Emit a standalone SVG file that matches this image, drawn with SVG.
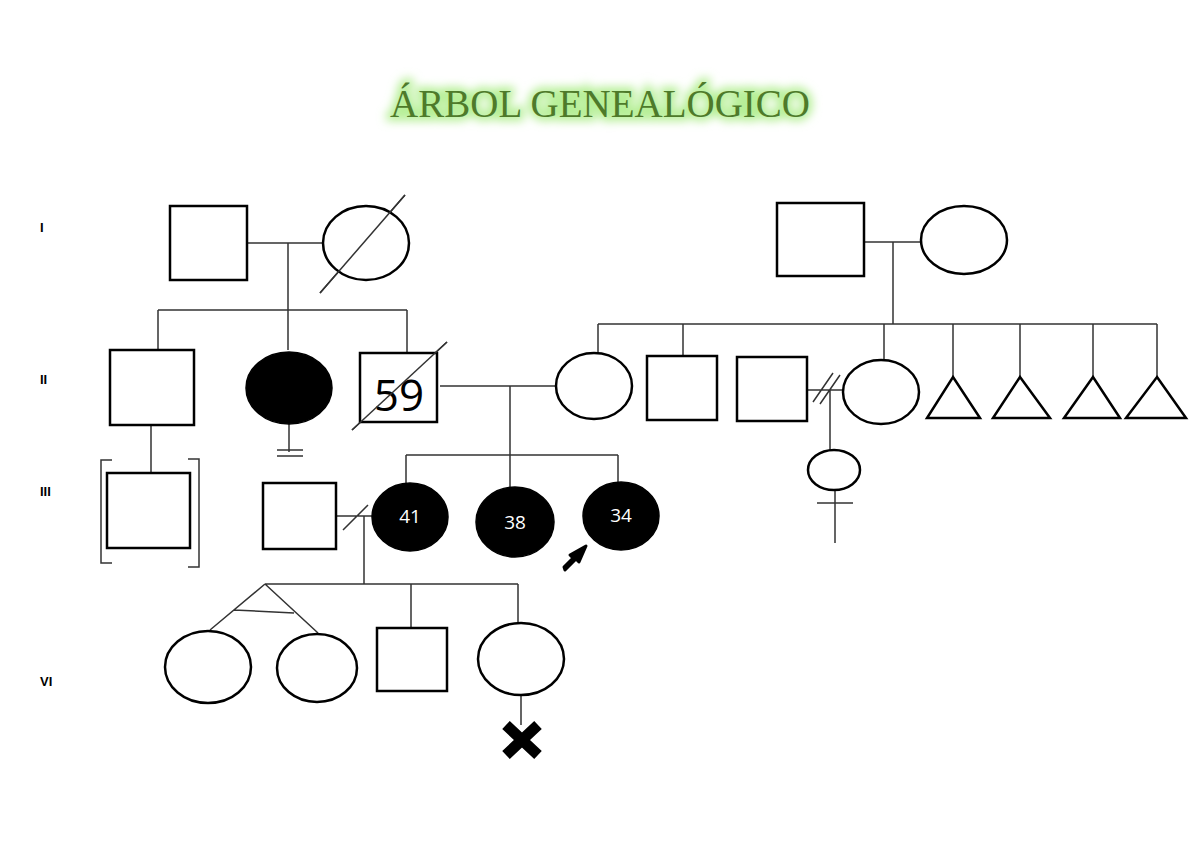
<svg xmlns="http://www.w3.org/2000/svg" width="1200" height="849" viewBox="0 0 1200 849">
<style>
.n{fill:#fff;stroke:#000;stroke-width:2.5}
.f{fill:#000;stroke:#000;stroke-width:1.5}
.l{stroke:#333;stroke-width:1.5;fill:none}
.g{font-family:"Liberation Sans",Arial,sans-serif;font-weight:bold;font-size:13px;fill:#000}
.w{font-family:"Open Sans","DejaVu Sans",sans-serif;font-size:19px;fill:#fff;text-anchor:middle}
</style>
<defs><filter id="glow" x="-10%" y="-50%" width="120%" height="200%"><feGaussianBlur stdDeviation="5"/></filter></defs>
<rect width="1200" height="849" fill="#fff"/>
<g id="title" font-family="Liberation Serif,serif" font-size="39" text-anchor="middle">
<text x="600" y="117" fill="#b6ef96" stroke="#b6ef96" stroke-width="8" filter="url(#glow)">ÁRBOL GENEALÓGICO</text>
<text x="600" y="117" fill="#4e7a2a">ÁRBOL GENEALÓGICO</text>
</g>
<g id="labels">
<text class="g" x="40" y="232">I</text><text class="g" x="40" y="384">II</text><text class="g" x="40" y="496">III</text><text class="g" x="40" y="686">VI</text>
</g>
<g id="connectors">
<path class="l" d="M247 243H323M288 243V350M158 310H407M158 310V350M407 310V352M320 293L405 195"/>
<path class="l" d="M864 242H921M893 242V324M598 324H1157M598 324V355M683 324V356M884 324V360M953 324V377M1020 324V377M1093 324V377M1157 324V377"/>
<path class="l" d="M289 424V452M277 450H303M277 456H303M352 430L447 342M440 386H557M510 386V488M406 455H618M406 455V483M618 455V483"/>
<path class="l" d="M807 390H843M813 402L833 373M820 404L840 375M830 390V450M835 490V543M817 503H853"/>
<path class="l" d="M151 425V473M112 460H101V563H112M188 459H199V567H188"/>
<path class="l" d="M336 516H377M343 530L368 505M364 516V584M265 584H518M265 584L210 630M265 584L318 633M234 610L294 613M411 584V628M518 584V623M521 695V725"/>
</g>
<g id="n1"><rect class="n" x="170" y="206" width="77" height="74"/></g>
<g id="n2"><ellipse class="n" cx="366" cy="243" rx="43" ry="37"/><path class="l" d="M320 293L405 195"/></g>
<g id="n3"><rect class="n" x="777" y="203" width="87" height="73"/></g>
<g id="n4"><ellipse class="n" cx="964" cy="240" rx="43" ry="34"/></g>
<g id="n5"><rect class="n" x="110" y="350" width="84" height="75"/></g>
<g id="n6"><ellipse class="f" cx="289" cy="388" rx="43" ry="36"/></g>
<g id="n7"><rect class="n" x="360" y="353" width="77" height="69"/><text x="399" y="411" font-family="Open Sans,DejaVu Sans,sans-serif" font-size="44" text-anchor="middle">59</text><path class="l" d="M352 430L447 342"/></g>
<g id="n8"><ellipse class="n" cx="594" cy="386" rx="38" ry="33"/></g>
<g id="n9"><rect class="n" x="647" y="356" width="70" height="64"/></g>
<g id="n10"><rect class="n" x="737" y="357" width="70" height="64"/></g>
<g id="n11"><ellipse class="n" cx="881" cy="392" rx="38" ry="32"/></g>
<g id="n12"><path class="n" d="M953 377L980 418H927Z"/></g>
<g id="n13"><path class="n" d="M1020 377L1050 418H993Z"/></g>
<g id="n14"><path class="n" d="M1093 377L1120 418H1064Z"/></g>
<g id="n15"><path class="n" d="M1157 377L1186 418H1126Z"/></g>
<g id="n16"><ellipse class="n" cx="834" cy="470" rx="26" ry="20"/></g>
<g id="n17"><rect class="n" x="107" y="473" width="83" height="75"/></g>
<g id="n18"><rect class="n" x="263" y="483" width="73" height="66"/></g>
<g id="n19"><ellipse class="f" cx="410" cy="517" rx="38" ry="34"/><text class="w" x="410" y="523">41</text></g>
<g id="n20"><ellipse class="f" cx="515" cy="522" rx="39" ry="35"/><text class="w" x="515" y="529">38</text></g>
<g id="n21"><ellipse class="f" cx="621" cy="516" rx="38" ry="34"/><text class="w" x="621" y="522">34</text></g>
<g id="arrow"><path d="M565 570L575 560L570 555L586 546L579 562L574 557L564 567Z" fill="#000" stroke="#000" stroke-width="3" stroke-linejoin="round"/></g>
<g id="n22"><ellipse class="n" cx="208" cy="667" rx="43" ry="36"/></g>
<g id="n23"><ellipse class="n" cx="317" cy="668" rx="40" ry="34"/></g>
<g id="n24"><rect class="n" x="377" y="628" width="70" height="63"/></g>
<g id="n25"><ellipse class="n" cx="521" cy="659" rx="43" ry="36"/></g>
<g id="x"><path d="M506 725L538 755M538 725L506 755" stroke="#000" stroke-width="11"/></g>
</svg>
